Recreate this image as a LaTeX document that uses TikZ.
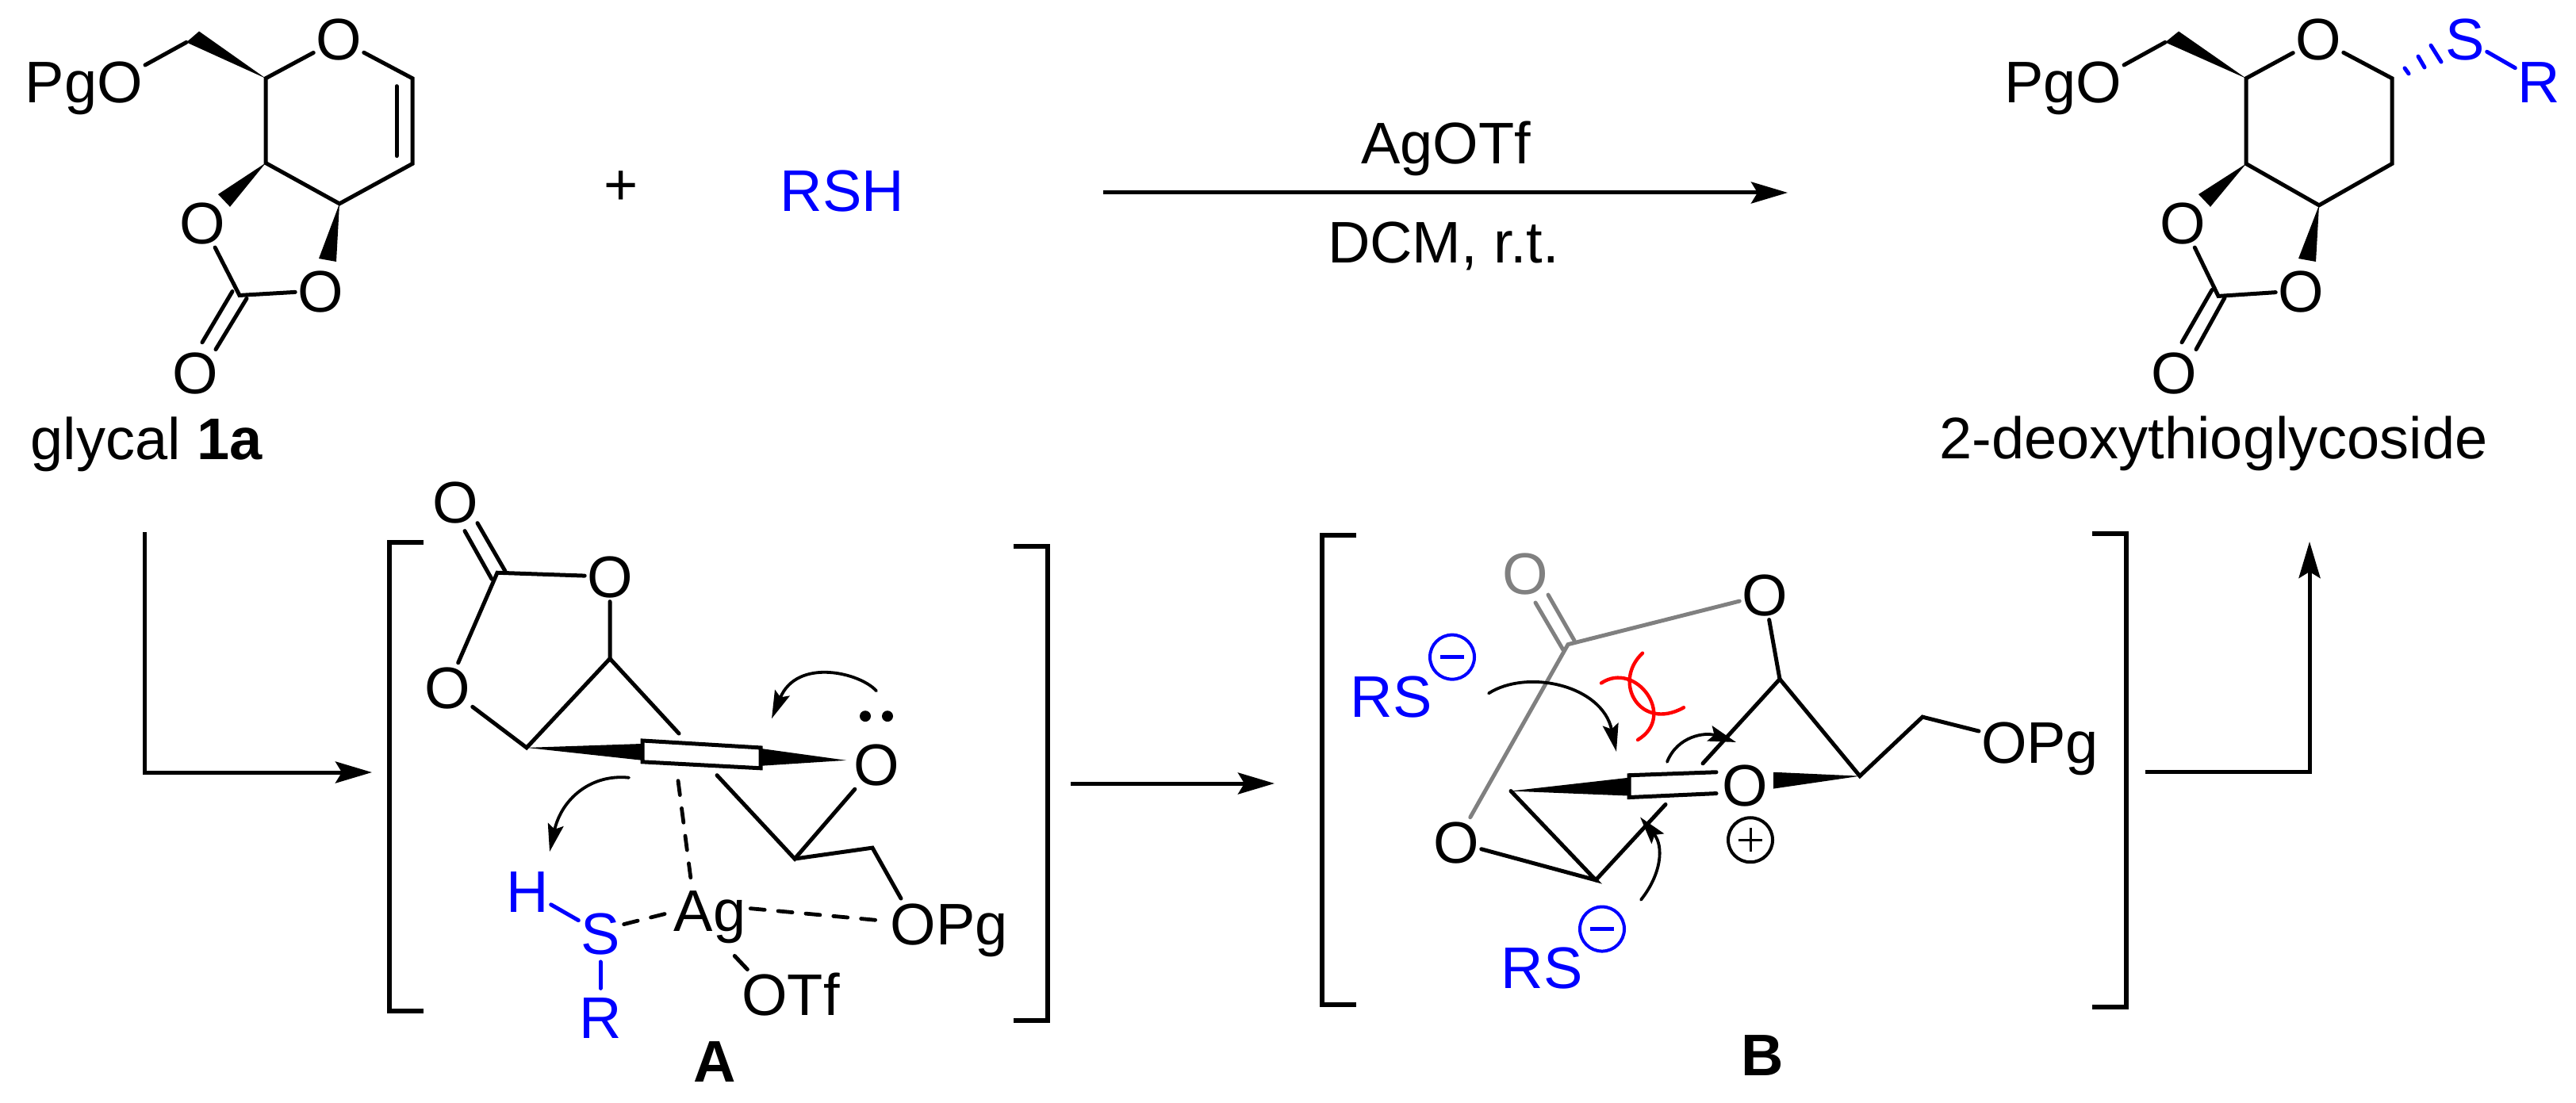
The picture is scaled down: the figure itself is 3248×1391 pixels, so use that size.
\documentclass[tikz,border=0pt]{standalone}
\usepackage{fontspec}
\setmainfont{Liberation Sans}
\usetikzlibrary{arrows.meta}
\definecolor{sblue}{HTML}{0000FF}
\definecolor{sgrey}{HTML}{808080}
\definecolor{sred}{HTML}{FF0000}
\tikzset{
  x=0.5pt,y=-0.5pt,
  atom/.style={inner xsep=1.5pt,inner ysep=2.5pt,outer sep=0pt,anchor=center,text height=26.5pt,text depth=0pt,font=\fontsize{37}{37}\selectfont},
  blueatom/.style={atom,text=sblue},
  greyatom/.style={atom,text=sgrey},
  boldlabel/.style={atom,font=\fontsize{37}{37}\selectfont\bfseries},
  bond/.style={line width=2.5pt,line cap=round,draw=black},
  bluebond/.style={bond,draw=sblue},
  greybond/.style={bond,draw=sgrey},
  dashbond/.style={line width=2.4pt,line cap=round,draw=black,dash pattern=on 9pt off 8.5pt},
  wedge/.style={fill=black},
  bracket/.style={line width=3pt,draw=black},
  rxn/.style={line width=2.5pt,draw=black,-{Stealth[length=23pt,width=13.5pt,inset=4pt]}},
  push/.style={line width=1.9pt,line cap=round,draw=black,-{Stealth[length=17.5pt,width=10pt,inset=3pt]}},
  clash/.style={line width=2.2pt,line cap=round,draw=sred},
  chargeb/.style={circle,draw=sblue,line width=2pt,minimum size=28pt,inner sep=0pt},
  chargek/.style={circle,draw=black,line width=2pt,minimum size=28pt,inner sep=0pt},
  topfix/.style={yscale=0.988},
  lowfix/.style={yshift=-1.8pt,yscale=0.994},
}
\begin{document}
\begin{tikzpicture}
\useasboundingbox (0,0) rectangle (3248,1391);
\fill[white] (0,0) rectangle (3248,1391);

\begin{scope}[topfix]
% ---------- glycal 1a
\node[atom] (gPg) at (106,104) {PgO};
\node[atom] (gO) at (427,50) {O};
\node[atom] (gOa) at (255,284) {O};
\node[atom] (gOb) at (404,371) {O};
\node[atom] (gOc) at (246,476) {O};
\node[atom] (gLab) at (185,560) {glycal \textbf{1a}};
\coordinate (gch) at (235,54);
\coordinate (gC5) at (335,100);
\coordinate (gC4) at (335,208);
\coordinate (gC3) at (428,260);
\coordinate (gC2) at (520,209);
\coordinate (gC1) at (520,100);
\coordinate (gCO) at (302,377);
\coordinate (gd1) at (500,110);
\coordinate (gd2) at (500,199);
\coordinate (gda1) at (293,372);
\coordinate (gda2) at (255,437);
\coordinate (gdb1) at (311,381);
\coordinate (gdb2) at (272,446);
\draw[bond] ([yshift=10.5pt]gPg.east) -- (gch);
\fill[wedge] (gch) -- (251,40) -- (gC5) -- cycle;
\draw[bond] (gO) -- (gC5) -- (gC4) -- (gC3) -- (gC2) -- (gC1) -- (gO);
\draw[bond] (gd1) -- (gd2);
\fill[wedge] (gC4) -- (275,248) -- (290,264) -- cycle;
\fill[wedge] (gC3) -- (402,330) -- (424,334) -- cycle;
\draw[bond] (gOa) -- (gCO) -- (gOb);
\draw[bond] (gda1) -- (gda2);
\draw[bond] (gdb1) -- (gdb2);

% ---------- product
\node[atom] (pPg) at (2601,104) {PgO};
\node[atom] (pO) at (2923,50) {O};
\node[atom] (pOa) at (2752,284) {O};
\node[atom] (pOb) at (2901,371) {O};
\node[atom] (pOc) at (2741,476) {O};
\node[blueatom] (pS) at (3108,50) {S};
\node[blueatom] (pR) at (3201,104) {R};
\node[atom] (pLab) at (2791,559) {2-deoxythioglycoside};
\coordinate (pch) at (2730,54);
\coordinate (pC5) at (2832,100);
\coordinate (pC4) at (2832,209);
\coordinate (pC3) at (2924,262);
\coordinate (pC2) at (3016,209);
\coordinate (pC1) at (3016,100);
\coordinate (pCO) at (2797,378);
\coordinate (pda1) at (2789,370);
\coordinate (pda2) at (2751,437);
\coordinate (pdb1) at (2805,380);
\coordinate (pdb2) at (2769,446);
\draw[bond] ([yshift=10.5pt]pPg.east) -- (pch);
\fill[wedge] (pch) -- (2747,40) -- (pC5) -- cycle;
\draw[bond] (pO) -- (pC5) -- (pC4) -- (pC3) -- (pC2) -- (pC1) -- (pO);
\fill[wedge] (pC4) -- (2772,248) -- (2787,264) -- cycle;
\fill[wedge] (pC3) -- (2898,330) -- (2920,334) -- cycle;
\draw[bond] (pOa) -- (pCO) -- (pOb);
\draw[bond] (pda1) -- (pda2);
\draw[bond] (pdb1) -- (pdb2);
\draw[bluebond] (3032,87) -- (3037,94);
\draw[bluebond] (3049,72) -- (3057,86);
\draw[bluebond] (3065,58) -- (3078,79);
\draw[bluebond] (pS) -- (pR);
\end{scope}

% ---------- plus, thiol, conditions
\node[atom] (plus) at (783,232) {+};
\node[blueatom] (rsh) at (1062,240) {RSH};
\node[atom] (cat) at (1823,180) {AgOTf};
\node[atom] (solv) at (1820,305) {DCM, r.t.};
\coordinate (r1a) at (1391,243);
\coordinate (r1b) at (2254,243);
\draw[rxn] (r1a) -- (r1b);

% ---------- scheme arrows
\coordinate (la) at (182,671);
\coordinate (lb) at (182,974);
\coordinate (lc) at (469,974);
\draw[rxn] (la) -- (lb) -- (lc);
\coordinate (ma) at (1350,988);
\coordinate (mb) at (1607,988);
\draw[rxn] (ma) -- (mb);
\coordinate (na) at (2705,973);
\coordinate (nb) at (2912,973);
\coordinate (nc) at (2912,683);
\draw[rxn] (na) -- (nb) -- (nc);

\begin{scope}[lowfix]
% ---------- intermediate A
\draw[bracket] (534,684) -- (491,684) -- (491,1279) -- (534,1279);
\draw[bracket] (1278,690) -- (1321,690) -- (1321,1291) -- (1278,1291);
\node[atom] (aOt) at (574,633) {O};
\node[atom] (aOa) at (769,728) {O};
\node[atom] (aOb) at (564,869) {O};
\node[atom] (aOr) at (1105,966) {O};
\node[atom] (aAg) at (895,1151) {Ag};
\node[atom] (aOPg) at (1197,1168) {OPg};
\node[atom] (aOTf) at (997,1258) {OTf};
\node[blueatom] (aH) at (665,1127) {H};
\node[blueatom] (aS) at (757,1180) {S};
\node[blueatom] (aR) at (757,1287) {R};
\node[boldlabel] (aLab) at (901,1342) {A};
\coordinate (aCO) at (627,723);
\coordinate (aCa) at (769,832);
\coordinate (aCb) at (664,945);
\coordinate (aCc) at (856,927);
\coordinate (aCd) at (904,980);
\coordinate (aCe) at (1002,1086);
\coordinate (aCf) at (1100,1072);
\draw[bond] (586,670) -- (620,731);
\draw[bond] (602,660) -- (637,721);
\draw[bond] (aOa) -- (aCO) -- (aOb);
\draw[bond] (aOa) -- (aCa) -- (aCb) -- (aOb);
\draw[bond] (aCa) -- (aCc);
\fill[wedge] (aCb) -- (810,940) -- (810,961) -- cycle;
\draw[line width=2.5pt,draw=black,fill=white,line join=miter] (810,936) -- (959,945) -- (959,971) -- (810,963) -- cycle;
\fill[wedge] (959,946) -- (959,968) -- (1067,961) -- cycle;
\draw[bond] (aCd) -- (aCe) -- (aOr);
\draw[bond] (aCe) -- (aCf) -- ([xshift=-30.5pt]aOPg.north);
\draw[dashbond] (855,987) -- ([xshift=-11.5pt]aAg.north);
\draw[dashbond] ([xshift=1.5pt,yshift=1pt]aAg.east) -- ([xshift=-1pt,yshift=1.5pt]aOPg.west);
\draw[dashbond] ([xshift=1pt,yshift=5.5pt]aS.east) -- ([xshift=-2.5pt,yshift=-2pt]aAg.west);
\draw[bond] ([xshift=-8.5pt,yshift=-13.25pt]aAg.south east) -- ([xshift=5pt]aOTf.north west);
\draw[bluebond] (aH) -- (aS);
\draw[bluebond,shorten <=2.5pt,shorten >=2.5pt] (aS) -- (aR);
\fill (1091,905) circle (7);
\fill (1119,905) circle (7);
\draw[push] (1105,873) .. controls (1085,850) and (1005,830) .. (973,908);
\draw[push] (793,983) .. controls (745,978) and (708,1010) .. (693,1077);

% ---------- intermediate B
\draw[bracket] (1710,675) -- (1667,675) -- (1667,1271) -- (1710,1271);
\draw[bracket] (2638,673) -- (2681,673) -- (2681,1274) -- (2638,1274);
\node[greyatom] (bOg) at (1923,724) {O};
\node[atom] (bOa) at (2225,751) {O};
\node[atom] (bOb) at (1836,1065) {O};
\node[atom] (bOr) at (2200,992) {O};
\node[atom] (bOPg) at (2572,938) {OPg};
\node[blueatom] (bRSa) at (1754,880) {RS};
\node[blueatom] (bRSb) at (1944,1224) {RS};
\node[boldlabel] (bLab) at (2222,1334) {B};
\node[chargeb] (bMa) at (1831,830) {};
\node[chargeb] (bMb) at (2020,1175) {};
\node[chargek] (bP) at (2207,1062) {};
\draw[line width=2.5pt,draw=sblue] ([xshift=-7.5pt]bMa.center) -- ([xshift=7.5pt]bMa.center);
\draw[line width=2.5pt,draw=sblue] ([xshift=-7.5pt]bMb.center) -- ([xshift=7.5pt]bMb.center);
\draw[line width=1.5pt] ([xshift=-7.5pt]bP.center) -- ([xshift=7.5pt]bP.center);
\draw[line width=1.5pt] ([yshift=-7.5pt]bP.center) -- ([yshift=7.5pt]bP.center);
\coordinate (bCO) at (1977,814);
\coordinate (bCa) at (2244,858);
\coordinate (bCb) at (2147,965);
\coordinate (bCc) at (2345,981);
\coordinate (bCd) at (2424,906);
\coordinate (bCe) at (1905,1000);
\coordinate (bCf) at (2012,1113);
\coordinate (bCg) at (2100,1017);
\draw[greybond] (1936,761) -- (1971,821);
\draw[greybond] (1952,751) -- (1985,809);
\draw[greybond] (bOa) -- (bCO) -- (bOb);
\draw[bond] (bOa) -- (bCa) -- (bCb);
\draw[bond] (bCa) -- (bCc) -- (bCd) -- ([yshift=7pt]bOPg.west);
\fill[wedge] (2236,976) -- (2236,997) -- (bCc) -- cycle;
\fill[wedge] (bCe) -- (2054,983) -- (2054,1006) -- cycle;
\draw[bond] (2164,976) -- (2054,980) -- (2054,1008) -- (2164,1003);
\draw[bond] (bCe) -- (bCf) -- (bOb);
\draw[bond] (bCf) -- (bCg);
\draw[push] (1877,876) .. controls (1925,845) and (2020,865) .. (2038,950);
\draw[push] (2102,963) .. controls (2115,930) and (2150,925) .. (2189,938);
\draw[push] (2069,1138) .. controls (2095,1105) and (2098,1070) .. (2068,1033);
\draw[clash] (2019,863) .. controls (2062,834) and (2115,905) .. (2065,935);
\draw[clash] (2071,825) .. controls (2032,862) and (2068,925) .. (2123,894);
\end{scope}
\end{tikzpicture}
\end{document}
